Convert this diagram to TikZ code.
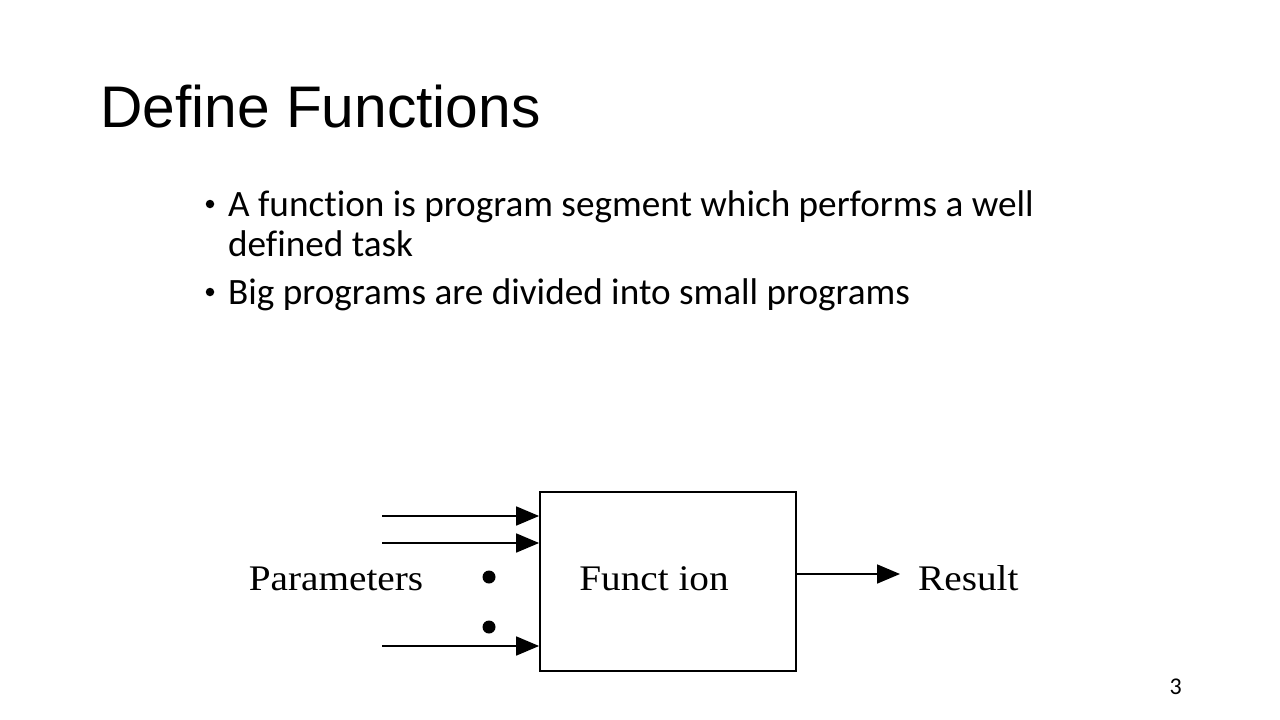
\documentclass[tikz,border=0pt]{standalone}
\usepackage{fontspec}
\setmainfont[Ligatures=NoCommon]{Carlito}
\newfontfamily\arialf{Liberation Sans}
\newfontfamily\timesf{Liberation Serif}
\usetikzlibrary{arrows.meta}
\begin{document}
\begin{tikzpicture}[x=1pt,y=-1pt,
  title/.style={anchor=base west, inner sep=0pt, font=\arialf\fontsize{58.7}{70}\selectfont},
  bodytext/.style={anchor=base west, inner sep=0pt, font=\fontsize{37.2}{44}\selectfont},
  bulletdot/.style={circle, fill=black, inner sep=0pt, minimum size=8.5pt},
  difont/.style={inner sep=0pt, anchor=base, font=\timesf\fontsize{36}{42}\selectfont, xscale=1.09},
  fnbox/.style={draw=black, line width=1.8pt, minimum width=256pt, minimum height=179pt, inner sep=0pt},
  inarrow/.style={line width=1.8pt, -{Triangle[length=23pt,width=19pt]}},
  dotnode/.style={circle, fill=black, inner sep=0pt, minimum size=13pt}
]
\useasboundingbox (0,0) rectangle (1280,720);
\fill[white] (0,0) rectangle (1280,720);

% title
\node[title] (ttl) at (100,127) {Define Functions};

% bullets
\node[bulletdot] (b1) at (210,204) {};
\node[bodytext] (l1) at (228,216) {A function is program segment which performs a well};
\node[bodytext] (l2) at (228,256) {defined task};
\node[bulletdot] (b2) at (210,292) {};
\node[bodytext] (l3) at (228,304) {Big programs are divided into small programs};

% diagram
\node[fnbox] (fn) at (668,581.5) {};
\node[difont] (fnlab) at (654,590) {Funct ion};
\node[difont] (par) at (336,590) {Parameters};
\node[difont, anchor=base west] (res) at (918,590) {Result};

\coordinate (s1) at (382,516);
\coordinate (s2) at (382,543);
\coordinate (s3) at (382,646);
\draw[inarrow] (s1) -- (fn.west |- s1);
\draw[inarrow] (s2) -- (fn.west |- s2);
\draw[inarrow] (s3) -- (fn.west |- s3);

\node[dotnode] (d1) at (489,577) {};
\node[dotnode] (d2) at (489,627) {};

\coordinate (oe) at (900,574);
\draw[inarrow] (fn.east |- oe) -- (oe);

% page number
\node[anchor=base east, inner sep=0pt, font=\fontsize{24}{28}\selectfont] (pg) at (1182,694) {3};
\end{tikzpicture}
\end{document}
